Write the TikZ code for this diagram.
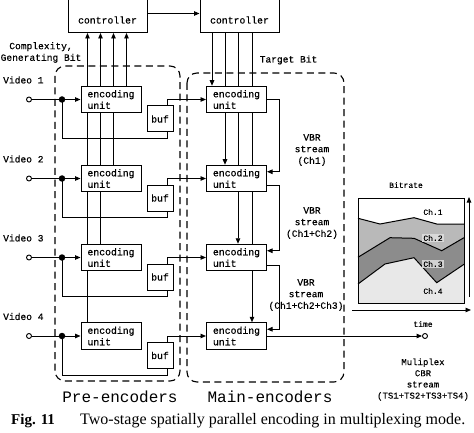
\documentclass[tikz,border=0pt]{standalone}
\usepackage{fontspec}
\setmainfont{Liberation Serif}
\newfontfamily\monof{Liberation Mono}[FakeBold=0.4]
\newfontfamily\monobig{Liberation Mono}
\usetikzlibrary{arrows.meta,backgrounds,calc}
\begin{document}
\begin{tikzpicture}[x=1pt,y=-1pt,
  conn/.style={line width=0.9pt},
  arr/.style={conn,-{Triangle[length=5.5pt,width=4.5pt]}},
  boxbase/.style={draw,fill=white,line width=1pt,inner sep=0pt,font=\monof\fontsize{9.8}{11.5}\selectfont},
  unitbox/.style={boxbase,minimum width=60pt,minimum height=26.5pt,align=left},
  bufbox/.style={boxbase,minimum width=26pt,minimum height=26pt},
  ctrlbox/.style={boxbase,minimum width=79pt,text height=24pt,text depth=9pt,anchor=south},
  incirc/.style={circle,draw,line width=0.9pt,fill=white,inner sep=0pt,minimum size=5pt},
  jdot/.style={circle,fill=black,inner sep=0pt,minimum size=6.5pt},
  lbl/.style={font=\monof\fontsize{9.6}{11.6}\selectfont,inner sep=0pt,align=center},
  smlbl/.style={font=\monof\fontsize{8}{9.5}\selectfont,inner sep=1pt},
  encl/.style={dash pattern=on 7pt off 4.5pt,line width=1.1pt,rounded corners=10pt},
]
\useasboundingbox (0,0) rectangle (474,433);

% controllers
\node[ctrlbox] (c1) at (107.5,33) {controller};
\node[ctrlbox] (c2) at (239.5,33) {controller};
\draw[arr] ([yshift=2.5pt]c1.east) -- ([yshift=2.5pt]c2.west);

% rows
\foreach \i/\y in {1/99.5,2/178.5,3/257.5,4/336}{
  \node[unitbox] (p\i) at (111,\y) {encoding\\unit};
  \node[unitbox] (m\i) at (236.5,\y) {encoding\\unit};
  \node[bufbox] (b\i) at (160,\y+19.5) {buf};
  \node[incirc] (in\i) at (29,\y) {};
  \node[jdot] (d\i) at (62,\y) {};
  \node[lbl,anchor=west] (v\i) at (3,\y-19.5) {Video \i};
  \coordinate (f\i) at ([xshift=-6pt,yshift=-6pt]b\i.south east);
  \draw[conn] (in\i) -- (d\i);
  \draw[arr] (d\i) -- (p\i);
  \draw[conn] (d\i.center) |- (f\i) -- ([xshift=-6pt]b\i.south east);
  \draw[arr] ([xshift=-6pt]b\i.north east) |- (m\i.west);
}

% vertical buses (behind boxes)
\begin{scope}[on background layer]
  \draw[arr] ([xshift=46pt]p1.north west) -- ([xshift=46pt]p1.north west |- c1.south);
  \draw[arr] ([xshift=33pt]p2.north west) -- ([xshift=33pt]p2.north west |- c1.south);
  \draw[arr] ([xshift=20pt]p3.north west) -- ([xshift=20pt]p3.north west |- c1.south);
  \draw[arr] ([xshift=7pt]p4.north west) -- ([xshift=7pt]p4.north west |- c1.south);
  \draw[arr] ([xshift=6pt]m1.north west |- c2.south) -- ([xshift=6pt]m1.north west);
  \draw[arr] ([xshift=19pt]m1.north west |- c2.south) -- ([xshift=19pt]m2.north west);
  \draw[arr] ([xshift=32pt]m1.north west |- c2.south) -- ([xshift=32pt]m3.north west);
  \draw[arr] ([xshift=46pt]m1.north west |- c2.south) -- ([xshift=46pt]m4.north west);
\end{scope}

% main encoder chaining
\draw[arr] (m1.east) -- ++(12.5,0) |- ([yshift=-7pt]m2.north east);
\draw[arr] ([yshift=7pt]m2.south east) -- ++(12.5,0) |- ([yshift=-7pt]m3.north east);
\draw[arr] ([yshift=6pt]m3.south east) -- ++(12.5,0) |- ([yshift=-7pt]m4.north east);
\node[incirc] (out) at (425,336) {};
\draw[arr] (m4.east) -- (out);

% labels
\node[lbl] (cx) at (41,52.5) {Complexity,\\Generating Bit};
\node[lbl] (tb) at (288.5,60) {Target Bit};
\node[lbl] (vbr1) at (312,150) {VBR\\stream\\(Ch1)};
\node[lbl] (vbr2) at (312,223) {VBR\\stream\\(Ch1+Ch2)};
\node[lbl] (vbr3) at (306,295) {VBR\\stream\\(Ch1+Ch2+Ch3)};
\node[font=\monof\fontsize{9}{11.2}\selectfont,align=center,inner sep=0pt] (mux) at (423,379.5) {Muliplex\\CBR\\stream\\(TS1+TS2+TS3+TS4)};

% enclosures
\draw[encl] (55,66) rectangle (180,381);
\draw[encl] (187,73) rectangle (344,382);
\node[font=\monobig\fontsize{16}{19}\selectfont,inner sep=0pt] (pre) at (120,397) {Pre-encoders};
\node[font=\monobig\fontsize{16}{19}\selectfont,inner sep=0pt] (main) at (270,397) {Main-encoders};

% bitrate chart
\fill[gray!55] (358,218.3) -- (380,224) -- (414,217.7) -- (436.7,224) -- (464,224)
  -- (464,237.7) -- (441.7,250.7) -- (414,238.3) -- (390,237.7) -- (358,257.3) -- cycle;
\fill[gray!90] (358,257.3) -- (390,237.7) -- (414,238.3) -- (441.7,250.7) -- (464,237.7)
  -- (464,264.3) -- (436.7,282.7) -- (414,257.7) -- (385,264) -- (358,284) -- cycle;
\fill[gray!18] (358,284) -- (385,264) -- (414,257.7) -- (436.7,282.7) -- (464,264.3)
  -- (464,303) -- (358,303) -- cycle;
\draw[line width=1pt] (358,218.3) -- (380,224) -- (414,217.7) -- (436.7,224) -- (464,224);
\draw[line width=1pt] (358,257.3) -- (390,237.7) -- (414,238.3) -- (441.7,250.7) -- (464,237.7);
\draw[line width=1pt] (358,284) -- (385,264) -- (414,257.7) -- (436.7,282.7) -- (464,264.3);
\draw[line width=1pt] (358,198) rectangle (464,303);
\node[smlbl] (ch1) at (433,212) {Ch.1};
\node[smlbl,fill=gray!30] (ch2) at (433,238) {Ch.2};
\node[smlbl,fill=gray!35] (ch3) at (433,264) {Ch.3};
\node[smlbl] (ch4) at (433,291) {Ch.4};
\node[smlbl] (br) at (406,185) {Bitrate};
\node[smlbl] (tm) at (423,324) {time};
\coordinate (ya) at (469,297);
\coordinate (yb) at (469,197);
\coordinate (xa) at (352,310);
\coordinate (xb) at (471,310);
\draw[arr] (ya) -- (yb);
\draw[arr] (xa) -- (xb);

% caption
\node[anchor=west,font=\bfseries\fontsize{15}{18}\selectfont,inner sep=0pt] (figno) at (11,421) {Fig. 11};
\node[anchor=west,font=\fontsize{16}{18}\selectfont,inner sep=0pt] (captxt) at (80,421) {Two-stage spatially parallel encoding in multiplexing mode.};
\end{tikzpicture}
\end{document}
